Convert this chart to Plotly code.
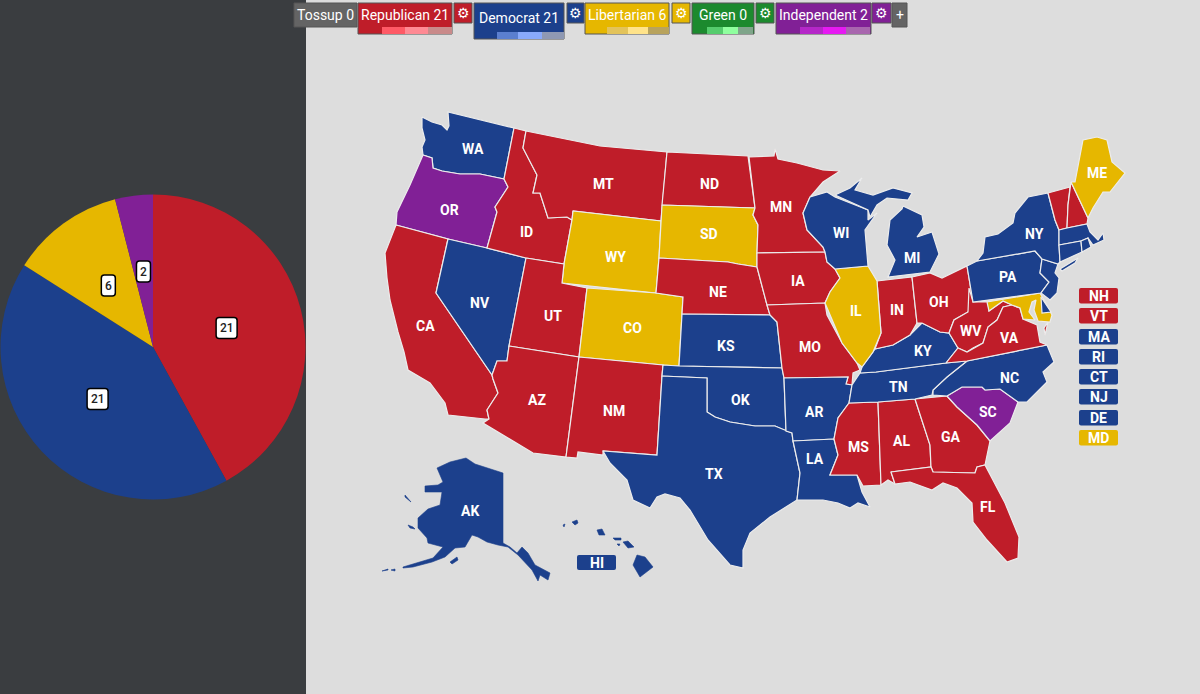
import math
import plotly.graph_objects as go

# %% Data
party_names = ['Republican', 'Democrat', 'Libertarian', 'Green', 'Independent']
party_counts = [21, 21, 6, 0, 2]
tossup_count = 0
party_colors = ['#bf1d29', '#1c408c', '#e6b700', '#1c8a2e', '#812096']
party_shades = [
    ['#ff5a66', '#ff8a94', '#c98a8a'],
    ['#5b7fcf', '#89aafb', '#8f99b3'],
    ['#e3c35a', '#ffe38a', '#b8a35d'],
    ['#55cc6d', '#90ff9f', '#7fa58a'],
    ['#b527c8', '#e619f2', '#a866ae'],
]

rep_states = ['CA', 'ID', 'MT', 'UT', 'AZ', 'NM', 'ND', 'NE', 'MN', 'IA', 'MO', 'MS', 'AL', 'GA',
              'FL', 'IN', 'OH', 'WV', 'VA', 'VAE', 'NH', 'VT']
dem_states = ['WA', 'NV', 'KS', 'OK', 'TX', 'AR', 'LA', 'WI', 'MI', 'TN', 'KY', 'NC', 'NY', 'PA',
              'NJ', 'DE', 'MA', 'CT', 'RI', 'AK', 'HI']
lib_states = ['WY', 'CO', 'SD', 'IL', 'ME', 'MD']
ind_states = ['OR', 'SC']

# outlines of the states, as rings
outlines = {
    'WA': [[(422, 117), (432, 122), (442, 125), (447, 130), (449, 126), (448, 112), (514, 128), (504, 179),
            (480, 174), (460, 174), (442, 171), (433, 168), (432, 158), (423, 155), (422, 147), (425, 140),
            (422, 128)]],
    'OR': [[(423, 155), (432, 158), (433, 168), (442, 171), (460, 174), (480, 174), (504, 179), (508, 187),
            (495, 207), (497, 212), (487, 248), (448, 239), (396, 225), (397, 212), (410, 185)]],
    'CA': [[(396, 225), (448, 239), (436, 293), (492, 375), (493, 379), (498, 393), (487, 410), (489, 419),
            (485, 419), (448, 415), (445, 403), (430, 383), (408, 370), (404, 352), (398, 332), (390, 300),
            (387, 278), (385, 253)]],
    'NV': [[(448, 239), (487, 248), (526, 258), (509, 346), (507, 361), (497, 361), (492, 375), (436, 293)]],
    'ID': [[(514, 128), (526, 131), (523, 148), (537, 175), (533, 193), (540, 193), (548, 218), (567, 217),
            (572, 220), (564, 264), (526, 258), (487, 248), (497, 212), (495, 207), (508, 187), (504, 179)]],
    'MT': [[(526, 131), (600, 146), (667, 152), (662, 205), (661, 221), (573, 211), (572, 220), (567, 217),
            (548, 218), (540, 193), (533, 193), (537, 175), (523, 148)]],
    'WY': [[(573, 211), (661, 221), (659, 258), (656, 293), (562, 283), (564, 264), (572, 220)]],
    'UT': [[(526, 258), (564, 264), (562, 283), (587, 288), (579, 357), (509, 346)]],
    'CO': [[(587, 288), (656, 293), (683, 297), (682, 314), (679, 366), (663, 365), (579, 357)]],
    'AZ': [[(509, 346), (579, 357), (566, 457), (533, 453), (483, 423), (489, 419), (487, 410), (498, 393),
            (493, 379), (492, 375), (497, 361), (507, 361)]],
    'NM': [[(579, 357), (663, 365), (662, 376), (657, 455), (603, 451), (603, 455), (578, 452), (577, 458),
            (566, 457)]],
    'ND': [[(667, 152), (748, 156), (755, 208), (662, 205)]],
    'SD': [[(662, 205), (755, 208), (753, 215), (758, 225), (757, 253), (757, 267), (738, 264), (728, 262),
            (659, 258), (661, 221)]],
    'NE': [[(659, 258), (728, 262), (738, 264), (757, 267), (767, 305), (770, 315), (682, 314), (683, 297),
            (656, 293)]],
    'KS': [[(682, 314), (770, 315), (777, 322), (782, 368), (679, 366)]],
    'OK': [[(663, 365), (679, 366), (782, 368), (784, 378), (786, 431), (775, 426), (755, 426), (730, 422),
            (715, 417), (707, 412), (707, 378), (662, 376)]],
    'TX': [[(662, 376), (707, 378), (707, 412), (715, 417), (730, 422), (755, 426), (775, 426), (786, 431),
            (792, 433), (793, 441), (800, 473), (797, 500), (770, 517), (750, 533), (743, 550), (743, 568),
            (730, 565), (708, 540), (690, 510), (680, 498), (665, 494), (657, 497), (650, 508), (633, 500),
            (627, 480), (610, 463), (603, 451), (657, 455)]],
    'MN': [[(749, 157), (774, 156), (775, 149), (778, 159), (797, 163), (823, 170), (840, 171), (823, 182),
            (810, 197), (803, 213), (807, 230), (823, 247), (825, 252), (757, 253), (758, 225), (753, 215),
            (755, 208)]],
    'IA': [[(757, 253), (825, 252), (827, 262), (835, 269), (840, 278), (830, 292), (825, 303), (767, 305),
            (757, 267)]],
    'MO': [[(767, 305), (825, 303), (827, 315), (842, 343), (857, 363), (860, 370), (853, 373), (852, 385),
            (846, 384), (848, 377), (784, 378), (782, 368), (777, 322), (770, 315)]],
    'AR': [[(784, 378), (848, 377), (846, 384), (852, 385), (849, 403), (838, 418), (834, 439), (793, 441),
            (792, 433), (786, 431)]],
    'LA': [[(793, 441), (834, 439), (838, 455), (830, 475), (857, 475), (862, 492), (870, 507), (858, 503),
            (850, 508), (838, 503), (823, 500), (797, 500), (800, 473)]],
    'MS': [[(849, 403), (878, 402), (881, 485), (863, 486), (857, 475), (830, 475), (838, 455), (834, 439),
            (838, 418)]],
    'AL': [[(878, 402), (915, 399), (930, 445), (931, 467), (891, 472), (895, 484), (888, 480), (881, 485)]],
    'GA': [[(915, 399), (947, 396), (957, 407), (977, 425), (990, 441), (985, 465), (977, 467), (975, 473),
            (933, 472), (931, 467), (930, 445)]],
    'FL': [[(891, 472), (931, 467), (933, 472), (975, 473), (977, 467), (985, 465), (1005, 503), (1019, 537),
            (1018, 558), (1007, 562), (987, 540), (973, 522), (972, 503), (957, 488), (943, 483), (932, 490),
            (910, 482), (895, 484)]],
    'SC': [[(947, 396), (962, 387), (982, 387), (985, 390), (1000, 389), (1018, 402), (1010, 423), (990, 441),
            (977, 425), (957, 407)]],
    'NC': [[(1047, 345), (1054, 362), (1043, 372), (1047, 382), (1027, 402), (1018, 402), (1000, 389),
            (985, 390), (982, 387), (962, 387), (947, 396), (933, 395), (933, 390), (947, 377), (967, 361)]],
    'TN': [[(849, 403), (852, 385), (860, 373), (876, 372), (946, 363), (967, 361), (947, 377), (933, 390),
            (932, 395), (915, 399), (878, 402)]],
    'KY': [[(860, 373), (862, 367), (873, 352), (875, 349), (893, 345), (910, 335), (922, 323), (940, 332),
            (949, 333), (958, 348), (946, 363), (876, 372)]],
    'IN': [[(877, 281), (912, 277), (917, 323), (910, 335), (893, 345), (875, 349), (881, 333)]],
    'IL': [[(835, 269), (868, 266), (877, 281), (881, 333), (873, 352), (862, 367), (857, 363), (842, 343),
            (825, 303), (830, 292), (840, 278)]],
    'WI': [[(810, 197), (827, 192), (835, 197), (868, 210), (868, 220), (877, 213), (865, 230), (868, 266),
            (835, 269), (827, 262), (825, 252), (823, 247), (807, 230), (803, 213)]],
    'MI': [[(835, 195), (850, 188), (862, 178), (855, 190), (873, 195), (893, 188), (912, 193), (908, 200),
            (887, 198), (877, 205), (870, 217), (868, 210)],
           [(903, 206), (922, 215), (924, 227), (917, 237), (932, 232), (939, 254), (930, 272), (888, 277),
            (895, 260), (887, 245), (890, 220), (902, 209)]],
    'OH': [[(912, 277), (930, 273), (942, 278), (955, 272), (967, 266), (973, 302), (968, 312), (954, 320),
            (949, 333), (940, 332), (922, 323), (917, 323)]],
    'WV': [[(969, 288), (973, 302), (988, 302), (989, 311), (1003, 301), (1012, 305), (1003, 307), (997, 320),
            (988, 327), (983, 343), (973, 348), (967, 352), (958, 348), (949, 333), (954, 320), (968, 312)]],
    'VA': [[(1003, 307), (1012, 305), (1020, 308), (1023, 319), (1037, 325), (1040, 342), (1047, 345),
            (967, 361), (946, 363), (958, 348), (967, 352), (983, 343), (988, 327), (997, 320)]],
    'VAE': [[(1048, 322), (1045, 335), (1044, 328)]],
    'MD': [[(987, 302), (1036, 294), (1040, 293), (1052, 315), (1050, 322), (1038, 321), (1034, 310),
            (1036, 300), (1032, 302), (1029, 312), (1035, 320), (1023, 319), (1020, 308), (1012, 305),
            (1003, 301), (989, 311)]],
    'DE': [[(1041, 297), (1051, 312), (1042, 313)]],
    'PA': [[(967, 266), (977, 261), (1035, 251), (1042, 259), (1040, 273), (1049, 282), (1041, 293), (973, 302)]],
    'NJ': [[(1042, 259), (1058, 264), (1055, 273), (1059, 278), (1057, 293), (1050, 300), (1041, 293),
            (1049, 282), (1040, 273)]],
    'NY': [[(1048, 193), (1055, 220), (1059, 230), (1059, 245), (1060, 262), (1058, 264), (1042, 259),
            (1035, 251), (977, 261), (983, 253), (985, 237), (998, 234), (1013, 223), (1015, 213), (1028, 197)],
           [(1060, 269), (1078, 258), (1075, 263), (1062, 271)]],
    'VT': [[(1048, 193), (1070, 187), (1068, 205), (1067, 228), (1059, 230), (1055, 220)]],
    'NH': [[(1071, 182), (1088, 218), (1087, 224), (1067, 228), (1068, 205), (1070, 187)]],
    'ME': [[(1071, 182), (1075, 182), (1083, 140), (1097, 137), (1107, 140), (1112, 162), (1125, 173),
            (1110, 192), (1103, 192), (1093, 208), (1088, 218)]],
    'MA': [[(1059, 230), (1067, 228), (1087, 224), (1090, 232), (1098, 240), (1103, 233), (1104, 240),
            (1093, 245), (1088, 238), (1081, 241), (1059, 245)]],
    'CT': [[(1059, 245), (1081, 241), (1082, 252), (1060, 262)]],
    'RI': [[(1081, 241), (1088, 238), (1091, 247), (1082, 252)]],
    'AK': [[(437, 468), (450, 462), (466, 458), (475, 464), (503, 473), (503, 543), (510, 547), (517, 553),
            (522, 547), (528, 553), (535, 565), (550, 573), (548, 580), (540, 575), (538, 581), (532, 570),
            (518, 555), (508, 547), (498, 545), (487, 542), (478, 537), (472, 535), (465, 547), (455, 548),
            (445, 557), (432, 562), (413, 567), (403, 568), (403, 567), (417, 563), (433, 558), (443, 547),
            (428, 543), (427, 538), (418, 528), (418, 518), (428, 509), (440, 505), (442, 492), (425, 492),
            (425, 486), (438, 485), (443, 482)],
           [(450, 562), (457, 557), (458, 560), (452, 564)],
           [(408, 525), (413, 527), (415, 529), (410, 528)],
           [(405, 495), (411, 501), (411, 502), (405, 497)],
           [(382, 571), (388, 569), (388, 570)],
           [(391, 570), (395, 569), (395, 571)]],
    'HI': [[(572, 522), (577, 520), (578, 523), (575, 525)],
           [(597, 530), (602, 529), (605, 535), (599, 535)],
           [(623, 542), (628, 541), (634, 547), (628, 548)],
           [(613, 538), (621, 538), (621, 540), (615, 540)],
           [(617, 544), (620, 544), (619, 546)],
           [(637, 555), (645, 557), (653, 567), (640, 577), (633, 565)],
           [(563, 525), (565, 524), (564, 527)]],
}
no_border = ['AK', 'HI']

# labels on the map
map_labels = {
    'WA': (473, 149), 'OR': (449, 210), 'CA': (425, 326), 'NV': (480, 303), 'ID': (526, 232),
    'MT': (603, 184), 'WY': (615, 257), 'UT': (553, 316), 'CO': (632, 328), 'AZ': (537, 400),
    'NM': (614, 411), 'ND': (709, 184), 'SD': (709, 234), 'NE': (718, 292), 'KS': (726, 346),
    'OK': (740, 400), 'TX': (714, 474), 'MN': (781, 207), 'IA': (798, 281), 'MO': (810, 347),
    'AR': (814, 412), 'LA': (815, 459), 'MS': (858, 447), 'AL': (901, 441), 'GA': (951, 437),
    'FL': (988, 507), 'SC': (988, 412), 'NC': (1009, 378), 'TN': (898, 387), 'KY': (923, 351),
    'IN': (897, 310), 'IL': (856, 311), 'WI': (841, 233), 'MI': (912, 258), 'OH': (939, 302),
    'WV': (971, 331), 'VA': (1009, 338), 'PA': (1008, 277), 'NY': (1034, 234), 'ME': (1097, 173),
    'AK': (470, 511),
}

small_states = ['NH', 'VT', 'MA', 'RI', 'CT', 'NJ', 'DE', 'MD']
small_rows = [296, 316, 337, 357, 377, 397, 418, 438]


def state_color(code):
    for names, color in zip([rep_states, dem_states, lib_states, ind_states],
                            [party_colors[0], party_colors[1], party_colors[2], party_colors[4]]):
        if code in names:
            return color


def rounded(x0, y0, x1, y1, r):
    return (f'M{x0 + r},{y0} L{x1 - r},{y0} Q{x1},{y0} {x1},{y0 + r} L{x1},{y1 - r} Q{x1},{y1} {x1 - r},{y1} '
            f'L{x0 + r},{y1} Q{x0},{y1} {x0},{y1 - r} L{x0},{y0 + r} Q{x0},{y0} {x0 + r},{y0} Z')


def label(text, x, y, size=14, color='white', weight=400, family='Roboto'):
    return dict(x=x, y=y, text=text, showarrow=False, xanchor='center', yanchor='middle',
                font=dict(family=family, size=size, color=color, weight=weight))


# %% Figure
fig = go.Figure()
shapes = []
annotations = []

# the map
for code, rings in outlines.items():
    xs, ys = [], []
    for ring in rings:
        xs += [p[0] for p in ring] + [ring[0][0], None]
        ys += [p[1] for p in ring] + [ring[0][1], None]
    color = state_color(code)
    border = dict(color=color, width=0.6) if code in no_border else dict(color='#ececec', width=1.2)
    fig.add_trace(go.Scatter(x=xs, y=ys, mode='lines', fill='toself', fillcolor=color,
                             line=border, hoverinfo='skip', showlegend=False))

for code, (x, y) in map_labels.items():
    annotations.append(label(code, x, y, weight=700))

for code, y in zip(small_states, small_rows):
    shapes.append(dict(type='path', path=rounded(1079, y - 8, 1118, y + 7.5, 2), fillcolor=state_color(code),
                       line_width=0))
    annotations.append(label(code, 1098.5, y, weight=700))

shapes.append(dict(type='path', path=rounded(577, 555, 616, 570, 2), fillcolor=state_color('HI'), line_width=0))
annotations.append(label('HI', 596.5, 563, weight=700))

# left panel with the pie
shapes.append(dict(type='rect', x0=0, x1=306, y0=0, y1=694, fillcolor='#3a3d40', line_width=0, layer='below'))

pie_labels = [n for n, c in zip(party_names, party_counts) if c > 0]
pie_values = [c for c in party_counts if c > 0]
pie_colors = [col for col, c in zip(party_colors, party_counts) if c > 0]
fig.add_trace(go.Pie(labels=pie_labels, values=pie_values, sort=False, direction='clockwise', rotation=0,
                     marker=dict(colors=pie_colors, line=dict(width=0)), textinfo='none', hoverinfo='label+value',
                     showlegend=False, domain=dict(x=[0.5 / 1200, 305.5 / 1200], y=[0, 1])))

total = sum(pie_values)
running = 0
for v in pie_values:
    mid = (running + v / 2) / total * 2 * math.pi
    running += v
    cx = 153 + 76 * math.sin(mid)
    cy = 347 - 76 * math.cos(mid)
    half = 10.5 if v >= 10 else 7
    shapes.append(dict(type='path', path=rounded(cx - half, cy - 10.5, cx + half, cy + 10.5, 3),
                       fillcolor='white', line=dict(color='black', width=1.5)))
    annotations.append(label(str(v), cx, cy, size=12, color='#222222', weight=500))

# buttons on top
shapes.append(dict(type='rect', x0=294, x1=357, y0=3, y1=27, fillcolor='#646464',
                   line=dict(color='#555555', width=1)))
annotations.append(label(f'Tossup {tossup_count}', 325, 15))

button_x0 = [358, 474, 585, 692, 776]
button_x1 = [452, 564, 669, 754, 871]
button_bottom = [34, 39, 34, 34, 34]
swatch_x = [[382, 405, 428, 452], [497, 518, 542, 564], [607, 628, 648, 669], [707, 723, 738, 753],
            [800, 823, 846, 870]]
gear_x0 = [454, 567, 672, 756, 872]
gear_x1 = [472, 584, 690, 774, 891]

for i, name in enumerate(party_names):
    x0, x1, bottom = button_x0[i], button_x1[i], button_bottom[i]
    shapes.append(dict(type='rect', x0=x0, x1=x1, y0=3, y1=bottom, fillcolor=party_colors[i],
                       line=dict(color='#555555', width=1)))
    for j in range(3):
        shapes.append(dict(type='rect', x0=swatch_x[i][j], x1=swatch_x[i][j + 1], y0=bottom - 7, y1=bottom,
                           fillcolor=party_shades[i][j], line_width=0))
    annotations.append(label(f'{name} {party_counts[i]}', (x0 + x1) / 2, bottom - 19 + (-2 if bottom == 39 else 0)))
    shapes.append(dict(type='rect', x0=gear_x0[i], x1=gear_x1[i], y0=3, y1=23, fillcolor=party_colors[i],
                       line=dict(color='#555555', width=1)))
    annotations.append(label('⚙', (gear_x0[i] + gear_x1[i]) / 2, 13, size=14, family='DejaVu Sans', weight=700))

shapes.append(dict(type='rect', x0=892, x1=907, y0=3, y1=27, fillcolor='#646464',
                   line=dict(color='#555555', width=1)))
annotations.append(label('+', 899.5, 15))

fig.update_layout(
    width=1200, height=694, margin=dict(l=0, r=0, t=0, b=0),
    paper_bgcolor='#dddddd', plot_bgcolor='#dddddd',
    xaxis=dict(range=[0, 1200], visible=False, fixedrange=True),
    yaxis=dict(range=[694, 0], visible=False, fixedrange=True),
    shapes=shapes, annotations=annotations,
)

fig.write_html("out.html", config=dict(displayModeBar=False),
               post_script="document.body.style.margin='0';document.body.style.overflow='hidden';")
